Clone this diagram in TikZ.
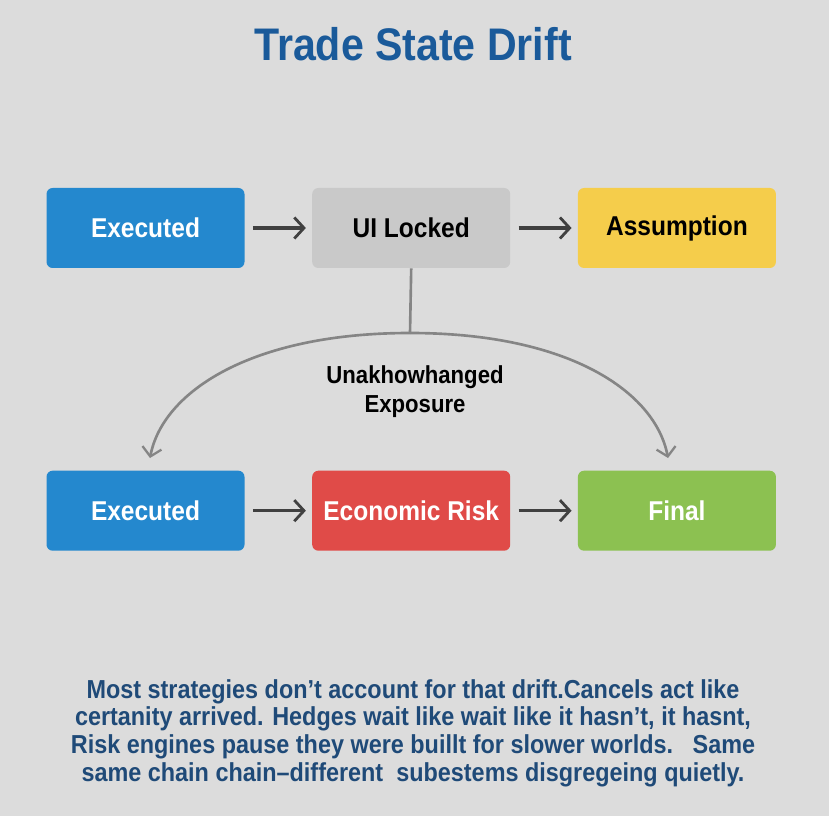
\documentclass[tikz,border=0pt]{standalone}
\usepackage{fontspec}
\setmainfont[FakeStretch=0.9]{Liberation Sans}
\usetikzlibrary{positioning, arrows.meta}

\definecolor{bgGrey}{HTML}{DCDCDC}
\definecolor{titleBlue}{HTML}{1A5A9A}
\definecolor{noteBlue}{HTML}{1F4A78}
\definecolor{execBlue}{HTML}{2488CE}
\definecolor{lockGrey}{HTML}{C9C9C9}
\definecolor{assumeYellow}{HTML}{F5CD4B}
\definecolor{riskRed}{HTML}{E04B48}
\definecolor{finalGreen}{HTML}{8CC151}

\begin{document}
\begin{tikzpicture}[font=\bfseries,
    statebox/.style={rectangle, rounded corners=3.5pt, draw=none,
                     minimum width=3.96cm, minimum height=1.6cm,
                     text centered, align=center, font=\fontsize{15.5}{18}\selectfont\bfseries},
    tok/.style={-{Straight Barb[length=5.5pt, width=12pt, line width=1.6pt]}, line width=1.8pt,
                draw=black!75, shorten <=0.16cm, shorten >=0.12cm},
    bok/.style={-{Straight Barb[length=5pt, width=11pt, line width=1.3pt]}, line width=1.5pt,
                draw=black!48}]

    \fill [bgGrey] (0,0) rectangle (16.58,-16.32);
    \useasboundingbox (0,0) rectangle (16.58,-16.32);

    % ---------------- naslov ----------------
    \node (title) [text=titleBlue, font=\fontsize{26}{30}\selectfont\bfseries] at (8.26,-0.88) {Trade State Drift};

    % ---------------- stanja ----------------
    \node (exec1)  [statebox, fill=execBlue, text=white] at (2.91,-4.56) {Executed};
    \node (uilock) [statebox, fill=lockGrey, text=black, right=1.34cm of exec1] {UI Locked};
    \node (assume) [statebox, fill=assumeYellow, text=black, right=1.34cm of uilock] {Assumption};

    \node (exec2)  [statebox, fill=execBlue, text=white, below=4.04cm of exec1] {Executed};
    \node (econ)   [statebox, fill=riskRed, text=white, right=1.34cm of exec2] {Economic Risk};
    \node (final)  [statebox, fill=finalGreen, text=white, right=1.34cm of econ] {Final};

    % ---------------- tokovi ----------------
    \draw [tok] (exec1) -- (uilock);
    \draw [tok] (uilock) -- (assume);
    \draw [tok] (exec2) -- (econ);
    \draw [tok] (econ) -- (final);

    % ---------------- grananje ----------------
    \coordinate (split) at (8.2,-6.66);
    \coordinate (lend) at (3.0,-9.16);
    \coordinate (rend) at (13.36,-9.16);
    \draw [line width=1.5pt, draw=black!48] (uilock.south) -- (split);
    \draw [bok] (split) .. controls (5.0,-6.66) and (3.25,-7.85) .. (lend);
    \draw [bok] (split) .. controls (11.4,-6.66) and (13.11,-7.85) .. (rend);
    \node (exposure) [align=center, text=black, font=\fontsize{14}{16.5}\selectfont\bfseries] at (8.3,-7.84) {Unakhowhanged\\Exposure};

    % ---------------- napomena ----------------
    \node (note) [align=center, text=noteBlue, font=\fontsize{14.8}{15.8}\selectfont\bfseries] at (8.26,-14.66)
        {Most strategies don’t account for that drift.Cancels act like\\
         certanity arrived. Hedges wait like wait like it hasn’t, it hasnt,\\
         Risk engines pause they were buillt for slower worlds.\ \ \ Same\\
         same chain chain–different\ \ subestems disgregeing quietly.};
\end{tikzpicture}
\end{document}
